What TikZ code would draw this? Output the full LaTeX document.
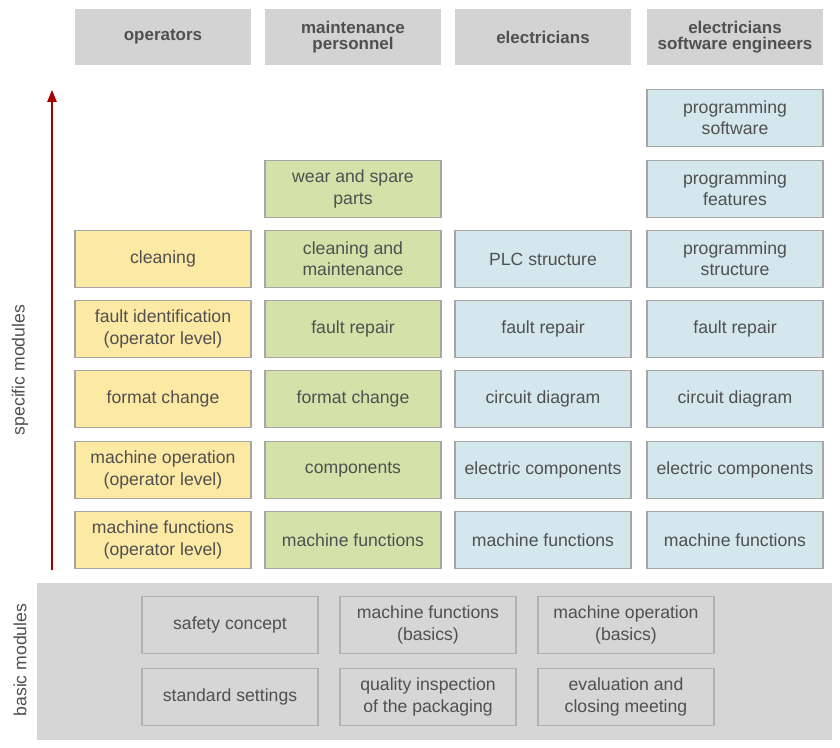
\documentclass[tikz,border=0pt]{standalone}
\usepackage{fontspec}
\setmainfont{Liberation Sans}
\usetikzlibrary{arrows.meta}
\definecolor{hdgray}{HTML}{D3D3D3}
\definecolor{bggray}{HTML}{D6D6D6}
\definecolor{opyellow}{HTML}{FCE9A4}
\definecolor{mpgreen}{HTML}{D3E2A8}
\definecolor{elblue}{HTML}{D3E7EC}
\definecolor{txtgray}{HTML}{505050}
\begin{document}
\begin{tikzpicture}[x=0.0265cm, y=-0.0265cm, align=center, text=txtgray,
  font=\fontsize{13.3}{16}\selectfont,
  box/.style={draw=gray!70, line width=1pt, minimum width=4.66cm, minimum height=1.5cm, inner sep=1pt},
  head/.style={fill=hdgray, minimum width=4.66cm, minimum height=1.5cm, font=\fontsize{12.8}{12}\selectfont\bfseries},
  op/.style={box, fill=opyellow},
  mp/.style={box, fill=mpgreen},
  el/.style={box, fill=elblue},
  basic/.style={box, draw=gray!60, fill=bggray}]
\useasboundingbox (0,0) rectangle (840,748);
% headers
\node[head] (h1) at (163,37) {operators};
\node[head] (h2) at (353,37) {maintenance\\personnel};
\node[head] (h3) at (543,37) {electricians};
\node[head] (h4) at (735,37) {electricians\\software engineers};
% operators
\node[op] (o1) at (163,259) {cleaning};
\node[op] (o2) at (163,329) {fault identification\\(operator level)};
\node[op] (o3) at (163,399) {format change};
\node[op] (o4) at (163,470) {machine operation\\(operator level)};
\node[op] (o5) at (163,540) {machine functions\\(operator level)};
% maintenance personnel
\node[mp] (m0) at (353,189) {wear and spare\\parts};
\node[mp] (m1) at (353,259) {cleaning and\\maintenance};
\node[mp] (m2) at (353,329) {fault repair};
\node[mp] (m3) at (353,399) {format change};
\node[mp] (m4) at (353,470) {components};
\node[mp] (m5) at (353,540) {machine functions};
% electricians
\node[el] (e1) at (543,259) {PLC structure};
\node[el] (e2) at (543,329) {fault repair};
\node[el] (e3) at (543,399) {circuit diagram};
\node[el] (e4) at (543,470) {electric components};
\node[el] (e5) at (543,540) {machine functions};
% software engineers
\node[el] (s6) at (735,118) {programming\\software};
\node[el] (s0) at (735,189) {programming\\features};
\node[el] (s1) at (735,259) {programming\\structure};
\node[el] (s2) at (735,329) {fault repair};
\node[el] (s3) at (735,399) {circuit diagram};
\node[el] (s4) at (735,470) {electric components};
\node[el] (s5) at (735,540) {machine functions};
% basic modules
\node[fill=bggray, minimum width=21.07cm, minimum height=4.16cm] (bg) at (434.5,661.5) {};
\node[basic] (b1) at (230,625) {safety concept};
\node[basic] (b2) at (428,625) {machine functions\\(basics)};
\node[basic] (b3) at (626,625) {machine operation\\(basics)};
\node[basic] (b4) at (230,697) {standard settings};
\node[basic] (b5) at (428,697) {quality inspection\\of the packaging};
\node[basic] (b6) at (626,697) {evaluation and\\closing meeting};
% side labels
\node[rotate=90] (spec) at (20,370) {specific modules};
\node[rotate=90] (base) at (20,660) {basic modules};
\coordinate (arrlo) at (52,570);
\coordinate (arrhi) at (52,90);
\draw[-{Triangle[length=9pt,width=7pt]}, draw=red!65!black, fill=red!65!black, line width=1.2pt] (arrlo) -- (arrhi);
\end{tikzpicture}
\end{document}
